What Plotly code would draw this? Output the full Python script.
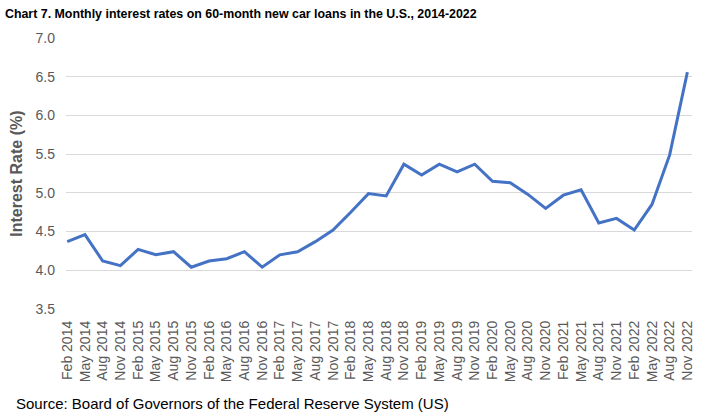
import plotly.graph_objects as go

months = ["Feb", "May", "Aug", "Nov"]
years = list(range(2014, 2023))
categories = [f"{m} {y}" for y in years for m in months]

rates = [4.37, 4.46, 4.12, 4.06, 4.27, 4.20, 4.24, 4.04,
         4.12, 4.15, 4.24, 4.04, 4.20, 4.24, 4.37, 4.52,
         4.75, 4.99, 4.96, 5.37, 5.23, 5.37, 5.27, 5.37,
         5.15, 5.13, 4.98, 4.80, 4.97, 5.04, 4.61, 4.67,
         4.52, 4.85, 5.49, 6.56]

y_ticks = [3.5, 4.0, 4.5, 5.0, 5.5, 6.0, 6.5, 7.0]

title_text = "Chart 7. Monthly interest rates on 60-month new car loans in the U.S., 2014-2022"
y_title = "Interest Rate (%)"
source_text = "Source: Board of Governors of the Federal Reserve System (US)"

FONT = "Liberation Sans, Arial, sans-serif"
GRAY = "#595959"

fig = go.Figure()
fig.add_trace(go.Scatter(
    x=list(range(len(categories))), y=rates, mode="lines",
    line=dict(color="#4472C4", width=3), hoverinfo="skip"
))

fig.update_layout(
    width=706, height=419,
    margin=dict(l=66, r=11, t=38, b=110),
    paper_bgcolor="white", plot_bgcolor="white",
    showlegend=False,
    font=dict(family=FONT, color=GRAY),
    title=dict(text="<b>" + title_text + "</b>", x=0.007, xref="container", xanchor="left",
               y=0.968, yref="container", yanchor="middle",
               font=dict(family=FONT, size=12.4, color="#000000")),
)

fig.update_xaxes(
    range=[-0.07, 35.26], tickmode="array",
    tickvals=list(range(len(categories))), ticktext=categories,
    tickangle=-90, showgrid=False, zeroline=False, showline=False,
    ticks="", tickfont=dict(family=FONT, size=14, color=GRAY),
    ticklabelstandoff=8,
)
fig.update_yaxes(
    range=[3.5, 7.0], tickmode="array", tickvals=y_ticks,
    ticktext=[f"{v:.1f}" for v in y_ticks],
    showgrid=True, gridcolor="#D9D9D9", gridwidth=1,
    zeroline=False, showline=False, ticks="",
    tickfont=dict(family=FONT, size=14, color=GRAY),
    ticklabelstandoff=10,
)

fig.add_annotation(text="<b>" + y_title + "</b>", textangle=-90,
                   xref="paper", yref="paper", x=(16 - 66) / 629, y=0.5,
                   xanchor="center", yanchor="middle", showarrow=False,
                   font=dict(family=FONT, size=16, color=GRAY))
fig.add_annotation(text=source_text, xref="paper", yref="paper",
                   x=(14 - 66) / 629, y=-(403 - 309) / 271,
                   xanchor="left", yanchor="middle", showarrow=False,
                   font=dict(family=FONT, size=15, color="#000000"))

fig.write_html("out.html", config={"displayModeBar": False},
               post_script="document.body.style.margin='0';document.body.style.overflow='hidden';")
